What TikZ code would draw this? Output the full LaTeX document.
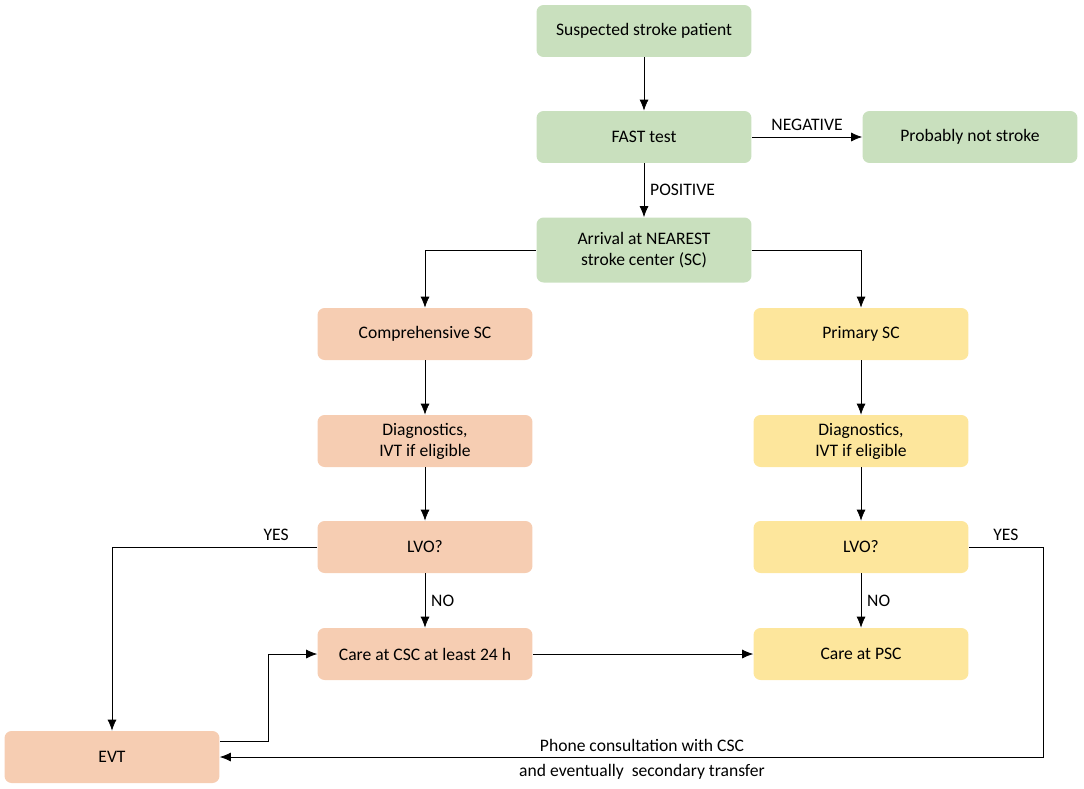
\documentclass[tikz,border=0pt]{standalone}
\usepackage{fontspec}
\setmainfont{Carlito}
\usetikzlibrary{positioning,arrows.meta}
\definecolor{stgreen}{HTML}{C9E0BE}
\definecolor{storange}{HTML}{F6CDB2}
\definecolor{styellow}{HTML}{FDE69C}
\tikzset{%
	box/.style    = {rectangle, rounded corners=4pt, minimum width=4.3cm, minimum height=1.04cm, align=center, font=\fontsize{10}{12}\selectfont},
	green/.style  = {box, fill=stgreen},
	orange/.style = {box, fill=storange},
	yellow/.style = {box, fill=styellow},
	label/.style  = {font=\fontsize{10}{12}\selectfont, align=center},
	arrow/.style  = {-{Latex[length=2.2mm,width=1.8mm]}, thin},
}
\begin{document}
\begin{tikzpicture}[x=0.02cm,y=-0.02cm]
	\useasboundingbox (0,0) rectangle (1084,788);
	\node[green] (start) at (644,31) {Suspected stroke patient};
	\node[green] (fast) at (644,137) {FAST test};
	\node[green] (nost) at (970,137) {Probably not stroke};
	\node[green, minimum height=1.3cm] (arr) at (644,250) {Arrival at NEAREST\\stroke center (SC)};
	\node[orange] (csc) at (425,334) {Comprehensive SC};
	\node[yellow] (psc) at (861,334) {Primary SC};
	\node[orange] (diagl) at (425,441) {Diagnostics,\\IVT if eligible};
	\node[yellow] (diagr) at (861,441) {Diagnostics,\\IVT if eligible};
	\node[orange] (lvol) at (425,547) {LVO?};
	\node[yellow] (lvor) at (861,547) {LVO?};
	\node[orange] (carel) at (425,654) {Care at CSC at least 24 h};
	\node[yellow] (carer) at (861,654) {Care at PSC};
	\node[orange] (evt) at (112,757) {EVT};
	\coordinate (tr) at (1043,547);
	\node[label, inner sep=0pt, text depth=0pt] (phone) at (642,758) {Phone consultation with CSC\\[2pt]and eventually\ \ secondary transfer};

	\draw[arrow] (start) -- (fast);
	\draw[arrow] (fast) -- node[label,above] {NEGATIVE} (nost);
	\draw[arrow] (fast) -- node[label,right] {POSITIVE} (arr);
	\draw[arrow] (arr) -| (csc);
	\draw[arrow] (arr) -| (psc);
	\draw[arrow] (csc) -- (diagl);
	\draw[arrow] (psc) -- (diagr);
	\draw[arrow] (diagl) -- (lvol);
	\draw[arrow] (diagr) -- (lvor);
	\draw[arrow] (lvol) -- node[label,right] {NO} (carel);
	\draw[arrow] (lvor) -- node[label,right] {NO} (carer);
	\draw[arrow] (lvol) -- node[label,above,pos=0.2] {YES} (112,547) -- (evt);
	\draw[arrow] (carel) -- (carer);
	\draw[arrow] (evt.east |- 0,741) -- (268,741) |- (carel);
	\draw[arrow] (lvor) -- node[label,above,pos=0.5] {YES} (tr) |- (evt.east |- 0,757);
\end{tikzpicture}
\end{document}
